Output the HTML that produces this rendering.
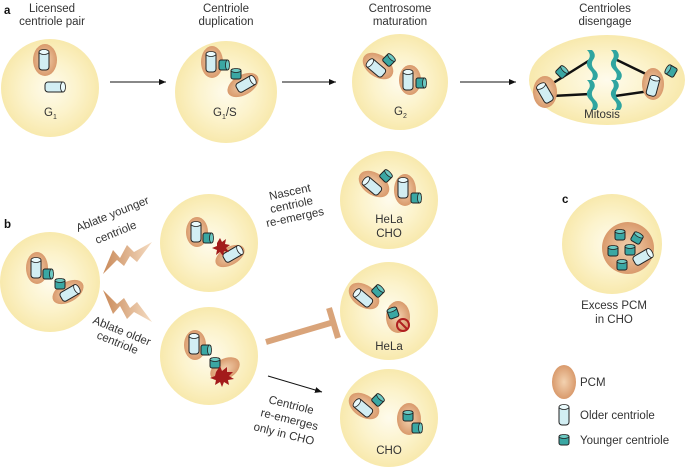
<!DOCTYPE html>
<html><head><meta charset="utf-8"><style>
body{margin:0;background:#fff}
svg{display:block}
text{font-family:"Liberation Sans",sans-serif;fill:#333;font-size:11.5px}
</style></head><body>
<svg width="685" height="468" viewBox="0 0 685 468" xmlns="http://www.w3.org/2000/svg">
<defs>
<radialGradient id="cell" cx="50%" cy="50%" r="50%">
<stop offset="0" stop-color="#fefbec"/><stop offset="0.55" stop-color="#fcf3cc"/><stop offset="1" stop-color="#f8e9ad"/></radialGradient>
<radialGradient id="pcm" cx="50%" cy="50%" r="50%">
<stop offset="0" stop-color="#f3d2b0"/><stop offset="1" stop-color="#d99a6c"/></radialGradient>
<linearGradient id="bolt" x1="0" y1="0" x2="1" y2="0">
<stop offset="0" stop-color="#c98a5a"/><stop offset="1" stop-color="#f5dcc2"/></linearGradient>
<g id="old"><rect x="-5" y="-10" width="10" height="20" rx="3" fill="#d2eef3" stroke="#222" stroke-width="1"/><ellipse cx="0" cy="-8" rx="5" ry="2.5" fill="#eafafc" stroke="#222" stroke-width="0.8"/></g>
<g id="young"><rect x="-5" y="-5" width="10" height="10" rx="2" fill="#3aa7a3" stroke="#222" stroke-width="1"/><ellipse cx="0" cy="-3.5" rx="5" ry="2" fill="#6cc8c2" stroke="#222" stroke-width="0.8"/></g>
<g id="chrom"><path d="M0,0 q5,5 1,10 q-3,5 2,10 q5,5 1,10 l5,0 q4,-5 -1,-10 q-5,-5 -2,-10 q4,-5 -1,-10z" fill="#2fa5a0"/></g>
<marker id="ah" markerWidth="8" markerHeight="8" refX="7" refY="4" orient="auto"><path d="M0,1 L7,4 L0,7z" fill="#111"/></marker>
</defs>

<!-- panel a -->
<text x="4" y="14" font-weight="bold" style="fill:#111">a</text>
<text x="52" y="12" text-anchor="middle">Licensed</text>
<text x="52" y="25" text-anchor="middle">centriole pair</text>
<text x="226" y="12" text-anchor="middle">Centriole</text>
<text x="226" y="25" text-anchor="middle">duplication</text>
<text x="400" y="12" text-anchor="middle">Centrosome</text>
<text x="400" y="25" text-anchor="middle">maturation</text>
<text x="605" y="12" text-anchor="middle">Centrioles</text>
<text x="605" y="25" text-anchor="middle">disengage</text>

<circle cx="50" cy="88" r="49" fill="url(#cell)"/>
<ellipse cx="45" cy="60" rx="12" ry="16" fill="url(#pcm)"/>
<use href="#old" transform="translate(44,60)"/>
<use href="#old" transform="translate(55,87) rotate(90)"/>
<text x="44" y="116">G<tspan font-size="7" dy="3">1</tspan></text>

<line x1="110" y1="82" x2="166" y2="82" stroke="#111" marker-end="url(#ah)"/>

<circle cx="226" cy="92" r="51" fill="url(#cell)"/>
<ellipse cx="212" cy="62" rx="11" ry="16" fill="url(#pcm)"/>
<ellipse cx="243" cy="85" rx="17" ry="10" transform="rotate(-30 243 85)" fill="url(#pcm)"/>
<use href="#old" transform="translate(211,62)"/>
<use href="#young" transform="translate(224,65) rotate(90)"/>
<use href="#young" transform="translate(236,74)"/>
<use href="#old" transform="translate(246,84) rotate(60)"/>
<text x="213" y="116">G<tspan font-size="7" dy="3">1</tspan><tspan dy="-3">/S</tspan></text>

<line x1="282" y1="82" x2="336" y2="82" stroke="#111" marker-end="url(#ah)"/>

<circle cx="400" cy="82" r="48" fill="url(#cell)"/>
<ellipse cx="378" cy="66" rx="17" ry="11" transform="rotate(35 378 66)" fill="url(#pcm)"/>
<ellipse cx="410" cy="80" rx="11" ry="15" fill="url(#pcm)"/>
<use href="#old" transform="translate(376,68) rotate(-50)"/>
<use href="#young" transform="translate(389,60) rotate(45)"/>
<use href="#old" transform="translate(408,80)"/>
<use href="#young" transform="translate(421,83) rotate(90)"/>
<text x="394" y="115">G<tspan font-size="7" dy="3">2</tspan></text>

<line x1="460" y1="82" x2="516" y2="82" stroke="#111" marker-end="url(#ah)"/>

<ellipse cx="607" cy="80" rx="78" ry="45" fill="url(#cell)"/>
<g stroke="#111" stroke-width="2.5">
<line x1="550" y1="85" x2="590" y2="60"/><line x1="552" y1="96" x2="590" y2="94"/>
<line x1="617" y1="60" x2="650" y2="76"/><line x1="615" y1="96" x2="650" y2="91"/>
</g>
<use href="#chrom" transform="translate(587,50)"/>
<use href="#chrom" transform="translate(587,80)"/>
<use href="#chrom" transform="translate(611,50)"/>
<use href="#chrom" transform="translate(611,80)"/>
<ellipse cx="545" cy="92" rx="12" ry="16" fill="url(#pcm)"/>
<ellipse cx="653" cy="84" rx="11" ry="16" fill="url(#pcm)"/>
<use href="#old" transform="translate(545,93) rotate(-30)"/>
<use href="#young" transform="translate(562,72) rotate(45)"/>
<use href="#old" transform="translate(653,86) rotate(15)"/>
<use href="#young" transform="translate(671,71) rotate(-60)"/>
<text x="602" y="118" text-anchor="middle">Mitosis</text>

<!-- panel b -->
<text x="4" y="228" font-weight="bold" style="fill:#111">b</text>
<circle cx="50" cy="282" r="50" fill="url(#cell)"/>
<ellipse cx="37" cy="268" rx="11" ry="16" fill="url(#pcm)"/>
<ellipse cx="68" cy="292" rx="17" ry="10" transform="rotate(-30 68 292)" fill="url(#pcm)"/>
<use href="#old" transform="translate(36,268)"/>
<use href="#young" transform="translate(48,274) rotate(90)"/>
<use href="#young" transform="translate(60,284)"/>
<use href="#old" transform="translate(70,293) rotate(60)"/>

<text transform="translate(78,232) rotate(-22)">Ablate younger</text>
<text transform="translate(97,244) rotate(-22)">centriole</text>
<text transform="translate(92,323) rotate(22)">Ablate older</text>
<text transform="translate(96,338) rotate(22)">centriole</text>
<path d="M103,274 L113,250 L120,258 L127,245 L134,252 L152,242 L137,262 L130,256 L124,266 L117,260z" fill="url(#bolt)"/>
<path d="M103,290 L113,314 L120,306 L127,319 L134,312 L152,322 L137,302 L130,308 L124,298 L117,304z" fill="url(#bolt)"/>

<circle cx="209" cy="243" r="49" fill="url(#cell)"/>
<ellipse cx="197" cy="232" rx="11" ry="15" fill="url(#pcm)"/>
<ellipse cx="230" cy="256" rx="16" ry="9" transform="rotate(-30 230 256)" fill="url(#pcm)"/>
<use href="#old" transform="translate(196,232)"/>
<use href="#young" transform="translate(208,238) rotate(90)"/>
<use href="#old" transform="translate(233,254) rotate(60)"/>
<path d="M217,243 l3,-5 l2,4 l4,-3 l-1,5 l5,1 l-4,3 l3,4 l-5,-1 l-1,5 l-3,-4 l-4,3 l1,-5 l-5,-2 l5,-2z" fill="#a31b1b"/>

<circle cx="209" cy="356" r="49" fill="url(#cell)"/>
<ellipse cx="195" cy="345" rx="11" ry="15" fill="url(#pcm)"/>
<ellipse cx="225" cy="369" rx="16" ry="10" transform="rotate(-30 225 369)" fill="url(#pcm)"/>
<use href="#old" transform="translate(194,344)"/>
<use href="#young" transform="translate(206,350) rotate(90)"/>
<use href="#young" transform="translate(215,363)"/>
<path d="M216,372 l4,-6 l2,5 l5,-4 l0,5 l6,0 l-4,4 l5,3 l-6,1 l1,5 l-5,-3 l-2,5 l-2,-5 l-5,3 l1,-5 l-6,-2 l5,-2z" fill="#a31b1b"/>

<text transform="translate(270,200) rotate(-12)">Nascent</text>
<text transform="translate(271,213) rotate(-12)">centriole</text>
<text transform="translate(267,227) rotate(-12)">re-emerges</text>

<line x1="266" y1="342" x2="334" y2="322" stroke="#d9a47a" stroke-width="6"/>
<line x1="329" y1="308" x2="338" y2="338" stroke="#d9a47a" stroke-width="6"/>
<line x1="268" y1="376" x2="322" y2="392" stroke="#111" marker-end="url(#ah)"/>
<text transform="translate(268,403) rotate(14)">Centriole</text>
<text transform="translate(260,416) rotate(14)">re-emerges</text>
<text transform="translate(253,430) rotate(14)">only in CHO</text>

<circle cx="389" cy="200" r="49" fill="url(#cell)"/>
<ellipse cx="374" cy="184" rx="17" ry="11" transform="rotate(35 374 184)" fill="url(#pcm)"/>
<ellipse cx="405" cy="190" rx="11" ry="16" fill="url(#pcm)"/>
<use href="#old" transform="translate(372,186) rotate(-50)"/>
<use href="#young" transform="translate(386,176) rotate(45)"/>
<use href="#old" transform="translate(403,188)"/>
<use href="#young" transform="translate(416,198) rotate(90)"/>
<text x="389" y="223" text-anchor="middle">HeLa</text>
<text x="389" y="237" text-anchor="middle">CHO</text>

<circle cx="389" cy="311" r="49" fill="url(#cell)"/>
<ellipse cx="364" cy="296" rx="17" ry="11" transform="rotate(35 364 296)" fill="url(#pcm)"/>
<ellipse cx="398" cy="317" rx="12" ry="16" fill="url(#pcm)"/>
<use href="#old" transform="translate(363,298) rotate(-50)"/>
<use href="#young" transform="translate(378,291) rotate(45)"/>
<use href="#young" transform="translate(393,313) rotate(-20)"/>
<circle cx="403" cy="325" r="6" fill="none" stroke="#b02020" stroke-width="2"/><line x1="399" y1="321" x2="407" y2="329" stroke="#b02020" stroke-width="2"/>
<text x="389" y="350" text-anchor="middle">HeLa</text>

<circle cx="389" cy="418" r="49" fill="url(#cell)"/>
<ellipse cx="364" cy="406" rx="17" ry="11" transform="rotate(35 364 406)" fill="url(#pcm)"/>
<ellipse cx="409" cy="419" rx="12" ry="16" fill="url(#pcm)"/>
<use href="#old" transform="translate(363,408) rotate(-50)"/>
<use href="#young" transform="translate(378,400) rotate(45)"/>
<use href="#young" transform="translate(408,416)"/>
<use href="#young" transform="translate(417,428) rotate(90)"/>
<text x="389" y="454" text-anchor="middle">CHO</text>

<!-- panel c -->
<text x="562" y="203" font-weight="bold" style="fill:#111">c</text>
<circle cx="612" cy="244" r="50" fill="url(#cell)"/>
<circle cx="628" cy="248" r="26" fill="url(#pcm)"/>
<use href="#young" transform="translate(620,235)"/>
<use href="#young" transform="translate(637,238) rotate(30)"/>
<use href="#young" transform="translate(613,251)"/>
<use href="#young" transform="translate(630,250)"/>
<use href="#young" transform="translate(622,265)"/>
<use href="#old" transform="translate(643,257) rotate(60)"/>
<text x="614" y="309" text-anchor="middle">Excess PCM</text>
<text x="614" y="323" text-anchor="middle">in CHO</text>

<ellipse cx="564" cy="382" rx="12" ry="17" fill="url(#pcm)"/>
<text x="580" y="386">PCM</text>
<use href="#old" transform="translate(564,415)"/>
<text x="580" y="419">Older centriole</text>
<use href="#young" transform="translate(564,440)"/>
<text x="580" y="444">Younger centriole</text>
</svg>
</body></html>
